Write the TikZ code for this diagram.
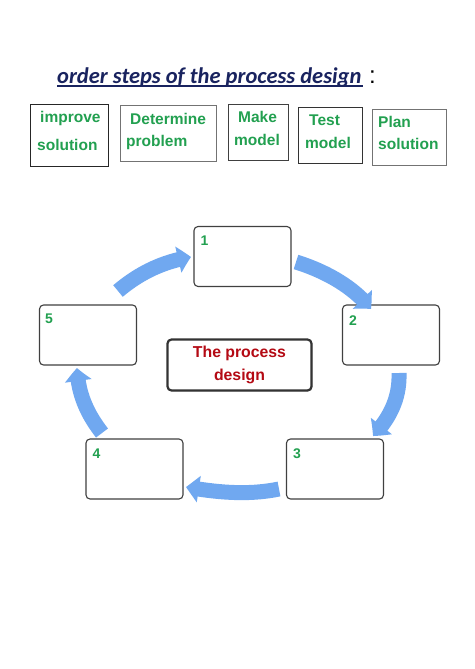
\documentclass[tikz,border=0pt]{standalone}
\usepackage{fontspec}
\setmainfont{Liberation Sans}
\newfontfamily\titlefont{Carlito}
\usetikzlibrary{arrows.meta,bending,shadows}
\definecolor{stepgreen}{RGB}{34,160,80}
\definecolor{darkred}{RGB}{180,10,20}
\definecolor{arrowblue}{RGB}{112,168,240}
\definecolor{navy}{RGB}{25,35,95}
\tikzset{
  topbox/.style={draw=black!70, line width=0.9pt, minimum width=#1, anchor=north west, inner sep=0pt},
  lbl/.style={text=stepgreen, font=\fontsize{15.5}{17}\selectfont\bfseries, anchor=base west, inner sep=0pt},
  stepbox/.style={draw=black!75, line width=1.1pt, rounded corners=4pt, minimum width=97pt, minimum height=60pt, inner sep=0pt},
  num/.style={text=stepgreen, font=\fontsize{14}{16}\selectfont\bfseries, anchor=north west, inner sep=0pt},
  bigarrow/.style={draw=arrowblue, line width=15pt, -{Triangle[width=26pt,length=13pt,bend]}}
}
\begin{document}
\begin{tikzpicture}[x=1pt,y=-1pt]
\useasboundingbox (0,0) rectangle (474,669);
\fill[white] (0,0) rectangle (474,669);
% title
\node[anchor=base west, inner sep=0pt, text=navy, font=\titlefont\fontsize{22.5}{26}\selectfont\bfseries\itshape] (title) at (57,83) {order steps of the process design};
\draw[navy, line width=1.3pt] (title.base west) ++(0,3) coordinate (ul1) -- (363,86) coordinate (ul2);
\node[anchor=base west, inner sep=0pt, font=\fontsize{24}{26}\selectfont] (colon) at (369,84) {:};
% top boxes
\node[topbox=78pt, minimum height=62pt, draw=black!85, line width=1.2pt] (bA) at (30,104) {};
\node[topbox=96pt, minimum height=56pt, draw=black!55] (bB) at (120,105) {};
\node[topbox=60pt, minimum height=56pt, draw=black!75] (bC) at (228,104) {};
\node[topbox=64pt, minimum height=56pt, draw=black!80] (bD) at (298,107) {};
\node[topbox=74pt, minimum height=56pt, draw=black!55] (bE) at (372,109) {};
\node[lbl] (tA1) at (40,122) {improve};
\node[lbl] (tA2) at (37,150) {solution};
\node[lbl] (tB1) at (130,124) {Determine};
\node[lbl] (tB2) at (126,146) {problem};
\node[lbl] (tC1) at (238,122) {Make};
\node[lbl] (tC2) at (234,145) {model};
\node[lbl] (tD1) at (309,125) {Test};
\node[lbl] (tD2) at (305,148) {model};
\node[lbl] (tE1) at (378,127) {Plan};
\node[lbl] (tE2) at (378,149) {solution};
% cycle boxes
\node[stepbox] (s1) at (242.5,256.5) {};
\node[stepbox] (s2) at (391,335) {};
\node[stepbox] (s3) at (335,469) {};
\node[stepbox] (s4) at (134.5,469) {};
\node[stepbox] (s5) at (88,335) {};
\node[num] (n1) at ([shift={(7,10)}]s1.north west) {1};
\node[num] (n2) at ([shift={(7,11)}]s2.north west) {2};
\node[num] (n3) at ([shift={(7,10)}]s3.north west) {3};
\node[num] (n4) at ([shift={(7,10)}]s4.north west) {4};
\node[num] (n5) at ([shift={(6,9)}]s5.north west) {5};
% center box
\node[draw=black!80, line width=2.2pt, rounded corners=4pt, minimum width=144pt, minimum height=51pt, align=center, text=darkred, font=\fontsize{15.8}{23}\selectfont\bfseries, drop shadow={shadow xshift=1pt, shadow yshift=-1pt, opacity=0.3}, fill=white] (c) at (239.5,365) {The process\\design};
% arrows
\coordinate (a51s) at (118,291);
\coordinate (a51e) at (191,257);
\coordinate (a12s) at (296,262);
\coordinate (a12e) at (371,309);
\coordinate (a23s) at (399,373);
\coordinate (a23e) at (373,436);
\coordinate (a34s) at (279,489);
\coordinate (a34e) at (186,487);
\coordinate (a45s) at (102,433);
\coordinate (a45e) at (77,368);
\draw[bigarrow] (a51s) .. controls (137,275) and (160,262) .. (a51e);
\draw[bigarrow] (a12s) .. controls (322,270) and (352,285) .. (a12e);
\draw[bigarrow] (a23s) .. controls (400,400) and (388,420) .. (a23e);
\draw[bigarrow] (a34s) .. controls (250,495) and (220,493) .. (a34e);
\draw[bigarrow] (a45s) .. controls (88,415) and (78,395) .. (a45e);
\end{tikzpicture}
\end{document}
